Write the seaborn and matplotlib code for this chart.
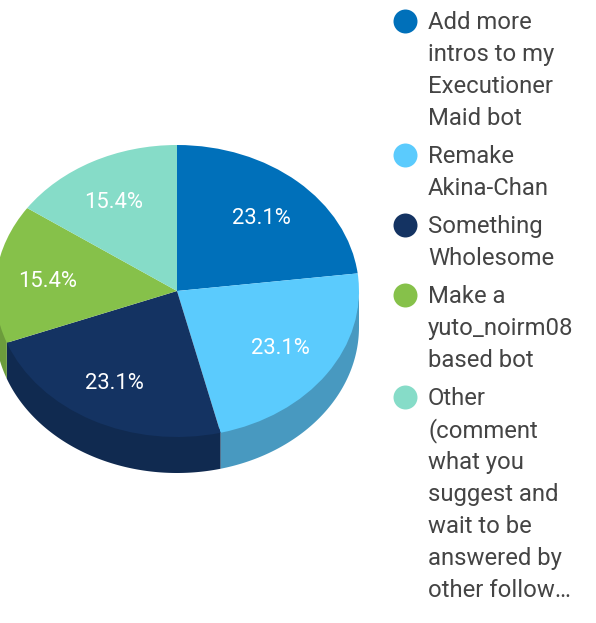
import numpy as np
import matplotlib
matplotlib.use("Agg")
import matplotlib.pyplot as plt
import seaborn as sns

categories = [
    "Add more\nintros to my\nExecutioner\nMaid bot",
    "Remake\nAkina-Chan",
    "Something\nWholesome",
    "Make a\nyuto_noirm08\nbased bot",
    "Other\n(comment\nwhat you\nsuggest and\nwait to be\nanswered by\nother follow\u2026",
]
votes = [3, 3, 3, 2, 2]
top_colors = ["#0070BA", "#5BCBFD", "#143362", "#86C14A", "#86DCC8"]
side_colors = ["#005A95", "#4899C0", "#102A50", "#6C9C3C", "#6BB0A0"]

W, H = 596, 623
CX, CY, RX, RY, DEPTH = 177, 291, 182, 146, 36

sns.set_theme(style="white")
plt.rcParams["font.family"] = ["Roboto", "DejaVu Sans"]

fig = plt.figure(figsize=(W / 100, H / 100), dpi=100, facecolor="white")
ax = fig.add_axes([0, 0, 1, 1])

# side walls of the 3D pie, derived from the wedge angles (front half only)
fractions = np.array(votes) / np.sum(votes)
edges = 90 - 360 * np.concatenate([[0], np.cumsum(fractions)])
d = DEPTH / RY
for a0, a1, c in zip(edges[:-1], edges[1:], side_colors):
    t = np.radians(np.linspace(a0, a1, 240))
    t = t[np.sin(t) <= 0]
    if t.size == 0:
        continue
    xs = np.concatenate([np.cos(t), np.cos(t[::-1])])
    ys = np.concatenate([np.sin(t) + 0.03, np.sin(t[::-1]) - d])
    ax.fill(xs, ys, color=c, lw=0, zorder=1)

wedges, _, autotexts = ax.pie(
    votes,
    colors=sns.color_palette(top_colors),
    startangle=90,
    counterclock=False,
    radius=1,
    autopct="%.1f%%",
    pctdistance=0.71,
    textprops={"color": "white", "fontsize": 15.8},
    wedgeprops={"linewidth": 0, "zorder": 2},
)
# small per-label pixel nudges (right, down) relative to the wedge's own position
nudges = [(-1, 3), (-3, -4), (-3, -2), (-1, 0), (-3, 1)]
for tx, (nx, ny) in zip(autotexts, nudges):
    tx.set_zorder(5)
    tx.set_verticalalignment("center_baseline")
    px, py = tx.get_position()
    tx.set_position((px + nx / RX, py - ny / RY))
ax.set_aspect("auto")
ax.set_xlim(-CX / RX, (W - CX) / RX)
ax.set_ylim(-(H - CY) / RY, CY / RY)
ax.axis("off")

# legend, laid out in pixel coordinates
lg = fig.add_axes([0, 0, 1, 1], facecolor="none")
lg.set_xlim(0, W)
lg.set_ylim(H, 0)
lg.axis("off")
LINE, GAP = 32, 6
y = 21
for label, c in zip(categories, top_colors):
    lg.scatter([405], [y], s=298, color=c, linewidths=0)
    lines = label.split("\n")
    for i, line in enumerate(lines):
        lg.text(428, y + i * LINE - 1, line, fontsize=17.2, color="#444444",
                va="center_baseline", ha="left")
    y += len(lines) * LINE + GAP

fig.savefig("out.png", dpi=100, facecolor="white")
